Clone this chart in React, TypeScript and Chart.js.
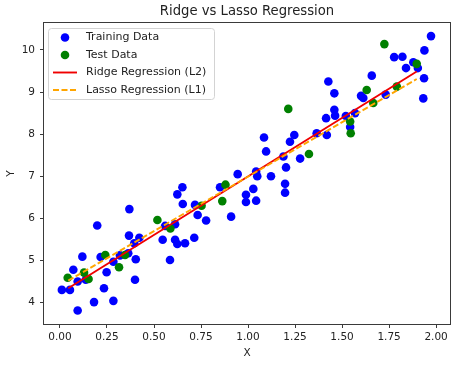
import { useEffect, useRef } from 'react';
import { Chart, registerables } from 'chart.js';

Chart.register(...registerables);

const TITLE = 'Ridge vs Lasso Regression';
const X_LABEL = 'X';
const Y_LABEL = 'Y';
const LEGEND_LABELS = ['Training Data', 'Test Data', 'Ridge Regression (L2)', 'Lasso Regression (L1)'];

const X_TICKS = [0, 0.25, 0.5, 0.75, 1.0, 1.25, 1.5, 1.75, 2.0];
const Y_TICKS = [4, 5, 6, 7, 8, 9, 10];

const trainX = [0.01, 0.053, 0.094, 0.071, 0.094, 0.119, 0.137, 0.198, 0.181, 0.234, 0.216, 0.248, 0.284, 0.284, 0.319, 0.369, 0.367, 0.363, 0.403, 0.399, 0.395, 0.422, 0.546, 0.559, 0.585, 0.612, 0.612, 0.624, 0.651, 0.653, 0.624, 0.665, 0.714, 0.718, 0.732, 0.777, 0.851, 0.910, 0.945, 0.989, 0.989, 1.028, 1.043, 1.197, 1.197, 1.043, 1.049, 1.122, 1.096, 1.188, 1.277, 1.202, 1.085, 1.223, 1.246, 1.365, 1.419, 1.415, 1.463, 1.459, 1.520, 1.543, 1.569, 1.427, 1.459, 1.601, 1.613, 1.658, 1.732, 1.777, 1.821, 1.840, 1.879, 1.903, 1.936, 1.932, 1.938, 1.973];
const trainY = [4.30, 4.30, 3.81, 4.78, 4.50, 5.09, 4.54, 5.83, 4.01, 4.34, 5.08, 4.72, 4.04, 4.97, 5.12, 6.22, 5.59, 5.17, 5.03, 4.54, 5.41, 5.54, 5.49, 5.82, 5.01, 5.86, 5.49, 6.57, 6.74, 6.34, 5.39, 5.41, 5.54, 6.32, 6.08, 5.95, 6.74, 6.04, 7.05, 6.56, 6.39, 6.70, 6.42, 6.82, 6.61, 7.11, 7.00, 7.00, 7.59, 7.47, 7.42, 7.21, 7.92, 7.82, 7.98, 8.02, 7.98, 8.38, 8.44, 8.58, 8.43, 8.17, 8.50, 9.25, 8.97, 8.91, 8.86, 9.39, 8.94, 9.83, 9.84, 9.57, 9.71, 9.57, 9.33, 8.85, 9.99, 10.33];

const testX = [0.041, 0.128, 0.152, 0.241, 0.314, 0.346, 0.518, 0.587, 0.753, 0.863, 0.880, 1.324, 1.214, 1.543, 1.546, 1.631, 1.666, 1.791, 1.725, 1.897];
const testY = [4.59, 4.71, 4.56, 5.13, 4.84, 5.13, 5.96, 5.76, 6.30, 6.41, 6.80, 7.53, 8.60, 8.30, 8.02, 9.05, 8.74, 9.13, 10.14, 9.67];

const ridgeX = [0.044, 1.897];
const ridgeY = [4.34, 9.49];
const lassoX = [0.044, 1.897];
const lassoY = [4.52, 9.31];

const X_MIN = -0.085;
const X_MAX = 2.074;
const Y_MIN = 3.49;
const Y_MAX = 10.64;

const FONT = 'DejaVu Sans';
const TEXT_COLOR = '#222';
const AXIS_COLOR = '#3a3a3a';

const zip = (xs: number[], ys: number[]) => xs.map((x, i) => ({ x, y: ys[i] }));

const framePlugin = {
  id: 'frame',
  afterDatasetsDraw(chart: any) {
    const { ctx, chartArea } = chart;
    ctx.save();
    ctx.strokeStyle = AXIS_COLOR;
    ctx.lineWidth = 1;
    const l = Math.round(chartArea.left) - 0.5;
    const t = Math.round(chartArea.top) - 0.5;
    const r = Math.round(chartArea.right) + 0.5;
    const b = Math.round(chartArea.bottom) + 0.5;
    ctx.strokeRect(l, t, r - l, b - t);
    ctx.restore();
  },
};

const legendPlugin = {
  id: 'innerLegend',
  afterDraw(chart: any) {
    const { ctx } = chart;
    const x0 = 48.5;
    const y0 = 28.5;
    const w = 166;
    const h = 71;
    ctx.save();
    ctx.beginPath();
    ctx.roundRect(x0, y0, w, h, 3);
    ctx.fillStyle = 'rgba(255,255,255,0.85)';
    ctx.fill();
    ctx.strokeStyle = '#d3d3d3';
    ctx.lineWidth = 1;
    ctx.stroke();
    const rows = [37.5, 55, 72.5, 90];
    const ds = chart.data.datasets;
    const order = [0, 1, 2, 3];
    order.forEach((k, i) => {
      const d = ds.find((q: any) => q.label === LEGEND_LABELS[k]);
      const y = rows[i];
      if (d.showLine) {
        ctx.beginPath();
        ctx.strokeStyle = d.borderColor;
        ctx.lineWidth = d.borderWidth;
        ctx.setLineDash(d.borderDash || []);
        ctx.moveTo(53, y);
        ctx.lineTo(77, y);
        ctx.stroke();
        ctx.setLineDash([]);
      } else {
        ctx.beginPath();
        ctx.fillStyle = d.backgroundColor;
        ctx.arc(65, y, 4.3, 0, Math.PI * 2);
        ctx.fill();
      }
      ctx.fillStyle = TEXT_COLOR;
      ctx.font = `11px "${FONT}"`;
      ctx.textBaseline = 'middle';
      ctx.textAlign = 'left';
      ctx.fillText(LEGEND_LABELS[k], 86, y);
    });
    ctx.restore();
  },
};

export default function App() {
  const ref = useRef<HTMLCanvasElement>(null);

  useEffect(() => {
    if (!ref.current) return;
    const chart = new Chart(ref.current, {
      type: 'scatter',
      data: {
        datasets: [
          {
            label: LEGEND_LABELS[3],
            data: zip(lassoX, lassoY),
            showLine: true,
            borderColor: '#ffa500',
            backgroundColor: '#ffa500',
            borderWidth: 1.9,
            borderDash: [6, 2.5],
            pointRadius: 0,
            order: 1,
          },
          {
            label: LEGEND_LABELS[2],
            data: zip(ridgeX, ridgeY),
            showLine: true,
            borderColor: '#f00000',
            backgroundColor: '#f00000',
            borderWidth: 1.9,
            pointRadius: 0,
            order: 2,
          },
          {
            label: LEGEND_LABELS[1],
            data: zip(testX, testY),
            backgroundColor: '#008000',
            borderColor: '#008000',
            borderWidth: 0,
            pointRadius: 4.3,
            order: 3,
          },
          {
            label: LEGEND_LABELS[0],
            data: zip(trainX, trainY),
            backgroundColor: '#0000ff',
            borderColor: '#0000ff',
            borderWidth: 0,
            pointRadius: 4.3,
            order: 4,
          },
        ] as any,
      },
      options: {
        responsive: false,
        animation: false,
        devicePixelRatio: 1,
        layout: { padding: { left: 0, right: 24, top: 0, bottom: 0 } },
        plugins: {
          legend: { display: false },
          tooltip: { enabled: false },
          title: {
            display: true,
            text: TITLE,
            fullSize: false,
            color: TEXT_COLOR,
            font: { family: FONT, size: 13.2, weight: 'normal' },
            padding: { top: 4, bottom: 3.2 },
          },
        },
        scales: {
          x: {
            type: 'linear',
            min: X_MIN,
            max: X_MAX,
            afterBuildTicks: (s: any) => {
              s.ticks = X_TICKS.map((v) => ({ value: v }));
            },
            afterFit: (s: any) => {
              s.height = 49;
            },
            ticks: {
              autoSkip: false,
              maxRotation: 0,
              padding: 3,
              color: TEXT_COLOR,
              font: { family: FONT, size: 10.5 },
              callback: (v: any) => Number(v).toFixed(2),
            },
            grid: { display: true, drawOnChartArea: false, drawTicks: true, tickLength: 4, color: AXIS_COLOR },
            border: { display: false },
            title: {
              display: true,
              text: X_LABEL,
              color: TEXT_COLOR,
              font: { family: FONT, size: 10.5 },
              padding: { top: 0, bottom: 13.7 },
            },
          },
          y: {
            type: 'linear',
            min: Y_MIN,
            max: Y_MAX,
            afterBuildTicks: (s: any) => {
              s.ticks = Y_TICKS.map((v) => ({ value: v }));
            },
            afterFit: (s: any) => {
              s.width = 44;
            },
            ticks: {
              autoSkip: false,
              padding: 5,
              color: TEXT_COLOR,
              font: { family: FONT, size: 10.5 },
              callback: (v: any) => String(v),
            },
            grid: { display: true, drawOnChartArea: false, drawTicks: true, tickLength: 4, color: AXIS_COLOR },
            border: { display: false },
            title: {
              display: true,
              text: Y_LABEL,
              color: TEXT_COLOR,
              font: { family: FONT, size: 10.5 },
              padding: { top: 4.7, bottom: 0 },
            },
          },
        },
      },
      plugins: [framePlugin, legendPlugin],
    } as any);
    return () => chart.destroy();
  }, []);

  return (
    <div style={{ position: 'fixed', left: 0, top: 0, width: 474, height: 373, background: '#fff' }}>
      <canvas ref={ref} width={474} height={373} style={{ display: 'block', width: 474, height: 373 }} />
    </div>
  );
}
